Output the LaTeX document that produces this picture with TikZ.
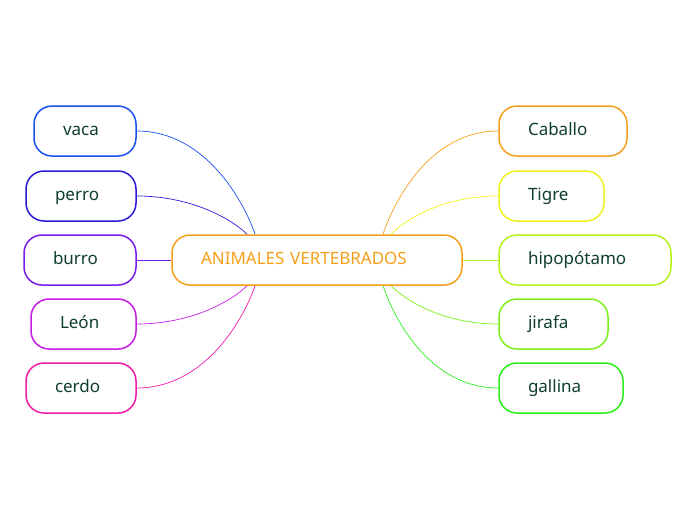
\documentclass[tikz,border=0pt]{standalone}
\usepackage{fontspec}
\setmainfont{Noto Sans}
\definecolor{txt}{HTML}{0F3D2F}
\definecolor{cOr}{HTML}{F5A01A}
\definecolor{cA}{HTML}{1A4FF0}
\definecolor{cB}{HTML}{2A1AD8}
\definecolor{cC}{HTML}{7A1AF0}
\definecolor{cD}{HTML}{C81AE6}
\definecolor{cE}{HTML}{F01AAA}
\definecolor{cF}{HTML}{F5A01A}
\definecolor{cG}{HTML}{F0F01A}
\definecolor{cH}{HTML}{B4F01A}
\definecolor{cI}{HTML}{7AF01A}
\definecolor{cJ}{HTML}{2AF01A}
\begin{document}
\begin{tikzpicture}[x=1pt,y=-1pt,
  box/.style={draw=#1,line width=1.5pt,rounded corners=18pt,fill=white,font=\bfseries\fontsize{17}{20}\selectfont,text=txt,minimum height=50pt,inner xsep=29pt,inner ysep=0pt,align=left,text height=12.5pt,text depth=3.5pt},
  bw/.style={text width=#1pt-58pt},
  link/.style={draw=#1,line width=0.7pt}]
\useasboundingbox (0,0) rectangle (696,520);
\node[box=cOr,text=cOr,bw=290] (c) at (317,260) {ANIMALES VERTEBRADOS};
\node[box=cA,bw=102] (a) at (85,131) {vaca};
\node[box=cB,bw=110] (b) at (81,196) {perro};
\node[box=cC,bw=112] (bu) at (80,260) {burro};
\node[box=cD,bw=105] (l) at (83.5,324) {León};
\node[box=cE,bw=110] (ce) at (81,388) {cerdo};
\node[box=cF,bw=128] (f) at (563,131) {Caballo};
\node[box=cG,bw=105] (g) at (551.5,196) {Tigre};
\node[box=cH,bw=172] (h) at (585,260) {hipopótamo};
\node[box=cI,bw=109] (i) at (553.5,324) {jirafa};
\node[box=cJ,bw=124] (j) at (561,388) {gallina};
\draw[link=cA] (a.east) .. controls +(70,0) and +(-10,-30) .. ([xshift=-62pt]c.north);
\draw[link=cB] (b.east) .. controls +(55,0) and +(-15,-15) .. ([xshift=-70pt]c.north);
\draw[link=cC] (bu.east) -- (c.west);
\draw[link=cD] (l.east) .. controls +(55,0) and +(-15,15) .. ([xshift=-70pt]c.south);
\draw[link=cE] (ce.east) .. controls +(70,0) and +(-10,30) .. ([xshift=-62pt]c.south);
\draw[link=cF] (f.west) .. controls +(-70,0) and +(10,-30) .. ([xshift=66pt]c.north);
\draw[link=cG] (g.west) .. controls +(-55,0) and +(15,-15) .. ([xshift=74pt]c.north);
\draw[link=cH] (h.west) -- (c.east);
\draw[link=cI] (i.west) .. controls +(-55,0) and +(15,15) .. ([xshift=74pt]c.south);
\draw[link=cJ] (j.west) .. controls +(-70,0) and +(10,30) .. ([xshift=66pt]c.south);
\end{tikzpicture}
\end{document}
